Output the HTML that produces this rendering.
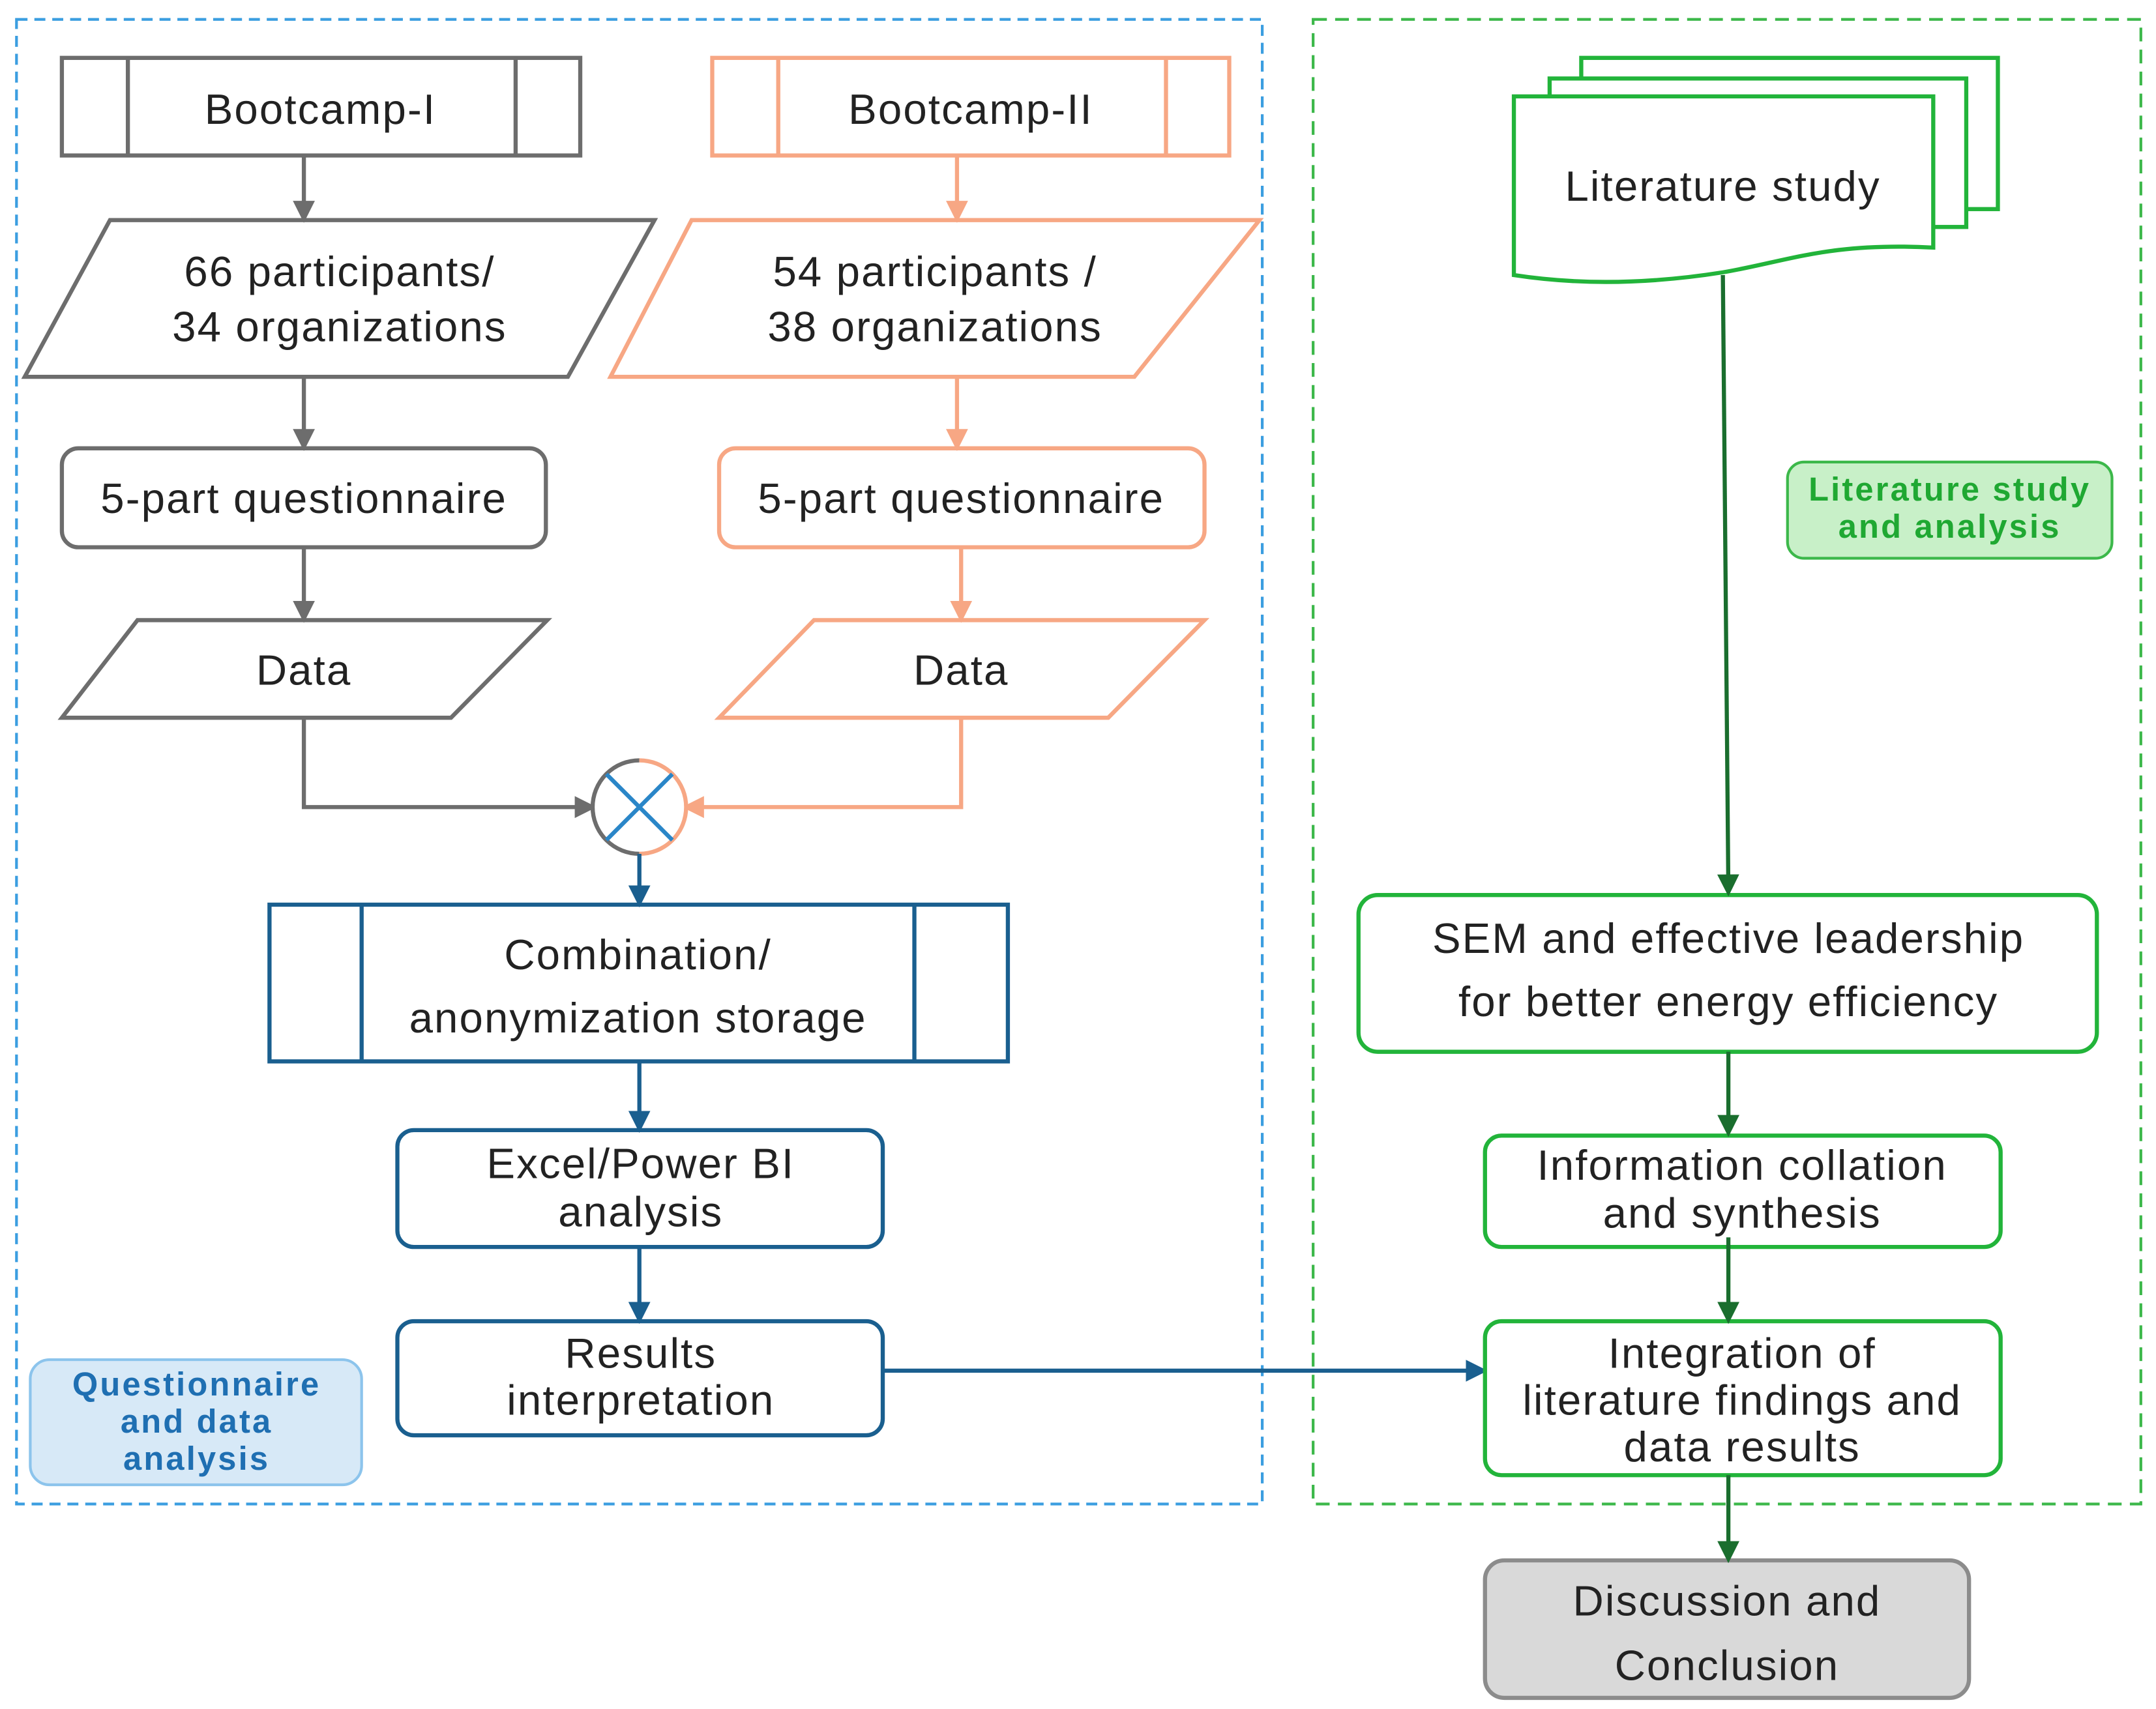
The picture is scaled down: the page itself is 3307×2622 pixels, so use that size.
<!DOCTYPE html>
<html><head><meta charset="utf-8"><style>
html,body{margin:0;padding:0;background:#fff;}
svg{display:block;}
text{font-family:"Liberation Sans",sans-serif;}
</style></head><body>
<svg width="3307" height="2622" viewBox="0 0 1568 1243" xmlns="http://www.w3.org/2000/svg">
<defs>
<marker id="ag" markerWidth="16" markerHeight="16" refX="12" refY="8" orient="auto" markerUnits="userSpaceOnUse" viewBox="0 0 16 16"><path d="M0,0 L16,8 L0,16 z" fill="#6d6d6d"/></marker>
<marker id="ao" markerWidth="16" markerHeight="16" refX="12" refY="8" orient="auto" markerUnits="userSpaceOnUse" viewBox="0 0 16 16"><path d="M0,0 L16,8 L0,16 z" fill="#f7a784"/></marker>
<marker id="ab" markerWidth="16" markerHeight="16" refX="12" refY="8" orient="auto" markerUnits="userSpaceOnUse" viewBox="0 0 16 16"><path d="M0,0 L16,8 L0,16 z" fill="#1a5f8f"/></marker>
<marker id="an" markerWidth="16" markerHeight="16" refX="12" refY="8" orient="auto" markerUnits="userSpaceOnUse" viewBox="0 0 16 16"><path d="M0,0 L16,8 L0,16 z" fill="#1a6e2e"/></marker>
</defs>
<rect x="12" y="14" width="906" height="1080" fill="none" stroke="#3b9ee0" stroke-width="2" stroke-dasharray="8,5"/>
<rect x="955" y="14" width="602" height="1080" fill="none" stroke="#3cb84a" stroke-width="2" stroke-dasharray="10,6"/>

<g font-size="31" text-anchor="middle" fill="#222" letter-spacing="1">
<g stroke="#6d6d6d" stroke-width="3" fill="#fff">
<rect x="45" y="42" width="377" height="71"/>
<line x1="93" y1="42" x2="93" y2="113"/><line x1="375" y1="42" x2="375" y2="113"/>
<polygon points="80,160 476,160 413,274 18,274"/>
<rect x="45" y="326" width="352" height="72" rx="12"/>
<polygon points="100,451 398,451 328,522 45,522"/>
</g>
<g stroke="#6d6d6d" stroke-width="3" fill="none" marker-end="url(#ag)">
<line x1="221" y1="113" x2="221" y2="158"/>
<line x1="221" y1="274" x2="221" y2="324"/>
<line x1="221" y1="398" x2="221" y2="449"/>
<polyline points="221,522 221,587 430,587"/>
</g>
<text x="233" y="90">Bootcamp-I</text>
<text x="247" y="208">66 participants/</text>
<text x="247" y="248">34 organizations</text>
<text x="221" y="373">5-part questionnaire</text>
<text x="221" y="498">Data</text>

<g stroke="#f7a784" stroke-width="3" fill="#fff">
<rect x="518" y="42" width="376" height="71"/>
<line x1="566" y1="42" x2="566" y2="113"/><line x1="848" y1="42" x2="848" y2="113"/>
<polygon points="503,160 916,160 825,274 444,274"/>
<rect x="523" y="326" width="353" height="72" rx="12"/>
<polygon points="592,451 876,451 806,522 523,522"/>
</g>
<g stroke="#f7a784" stroke-width="3" fill="none" marker-end="url(#ao)">
<line x1="696" y1="113" x2="696" y2="158"/>
<line x1="696" y1="274" x2="696" y2="324"/>
<line x1="699" y1="398" x2="699" y2="449"/>
<polyline points="699,522 699,587 500,587"/>
</g>
<text x="706" y="90">Bootcamp-II</text>
<text x="680" y="208">54 participants /</text>
<text x="680" y="248">38 organizations</text>
<text x="699" y="373">5-part questionnaire</text>
<text x="699" y="498">Data</text>

<path d="M465,553 A34,34 0 0 0 465,621" fill="#fff" stroke="#6d6d6d" stroke-width="3"/>
<path d="M465,553 A34,34 0 0 1 465,621" fill="#fff" stroke="#f7a784" stroke-width="3"/>
<g stroke="#2a86c8" stroke-width="3"><line x1="441" y1="563" x2="489" y2="611"/><line x1="489" y1="563" x2="441" y2="611"/></g>

<g stroke="#1a5f8f" stroke-width="3" fill="#fff">
<rect x="196" y="658" width="537" height="114"/>
<line x1="263" y1="658" x2="263" y2="772"/><line x1="665" y1="658" x2="665" y2="772"/>
<rect x="289" y="822" width="353" height="85" rx="12"/>
<rect x="289" y="961" width="353" height="83" rx="12"/>
</g>
<g stroke="#1a5f8f" stroke-width="3" fill="none" marker-end="url(#ab)">
<line x1="465" y1="621" x2="465" y2="656"/>
<line x1="465" y1="772" x2="465" y2="820"/>
<line x1="465" y1="907" x2="465" y2="959"/>
<line x1="642" y1="997" x2="1078" y2="997"/>
</g>
<text x="464" y="705">Combination/</text>
<text x="464" y="751">anonymization storage</text>
<text x="466" y="857">Excel/Power BI</text>
<text x="466" y="892">analysis</text>
<text x="466" y="995">Results</text>
<text x="466" y="1029">interpretation</text>

<rect x="22" y="989" width="241" height="91" rx="14" fill="#d7e9f7" stroke="#8cc4ec" stroke-width="2"/>
<g font-size="24" font-weight="bold" fill="#1f6fb2" letter-spacing="1.5">
<text x="143" y="1015">Questionnaire</text>
<text x="143" y="1042">and data</text>
<text x="143" y="1069">analysis</text>
</g>

<g stroke="#22b43a" stroke-width="3" fill="#fff">
<rect x="1150" y="42" width="303" height="110"/>
<rect x="1127" y="57" width="303" height="108"/>
<path d="M1101,70 L1406,70 L1406,180 C1330,176 1300,190 1253,198 C1190,208 1140,206 1101,200 Z"/>
<rect x="988" y="651" width="537" height="114" rx="14"/>
<rect x="1080" y="826" width="375" height="81" rx="12"/>
<rect x="1080" y="961" width="375" height="112" rx="12"/>
</g>
<rect x="1080" y="1135" width="352" height="100" rx="14" fill="#d9d9d9" stroke="#8c8c8c" stroke-width="3"/>
<g stroke="#1a6e2e" stroke-width="3" fill="none" marker-end="url(#an)">
<line x1="1253" y1="200" x2="1257" y2="648"/>
<line x1="1257" y1="765" x2="1257" y2="823"/>
<line x1="1257" y1="900" x2="1257" y2="959"/>
<line x1="1257" y1="1073" x2="1257" y2="1133"/>
</g>
<text x="1253" y="146">Literature study</text>
<text x="1257" y="693">SEM and effective leadership</text>
<text x="1257" y="739">for better energy efficiency</text>
<text x="1267" y="858">Information collation</text>
<text x="1267" y="893">and synthesis</text>
<text x="1267" y="995">Integration of</text>
<text x="1267" y="1029">literature findings and</text>
<text x="1267" y="1063">data results</text>
<text x="1256" y="1175">Discussion and</text>
<text x="1256" y="1222">Conclusion</text>

<rect x="1300" y="336" width="236" height="70" rx="12" fill="#c8f0c8" stroke="#3cb84a" stroke-width="2"/>
<g font-size="24" font-weight="bold" fill="#1fa832" letter-spacing="1.5">
<text x="1418" y="364">Literature study</text>
<text x="1418" y="391">and analysis</text>
</g>
</g>
</svg>
</body></html>
